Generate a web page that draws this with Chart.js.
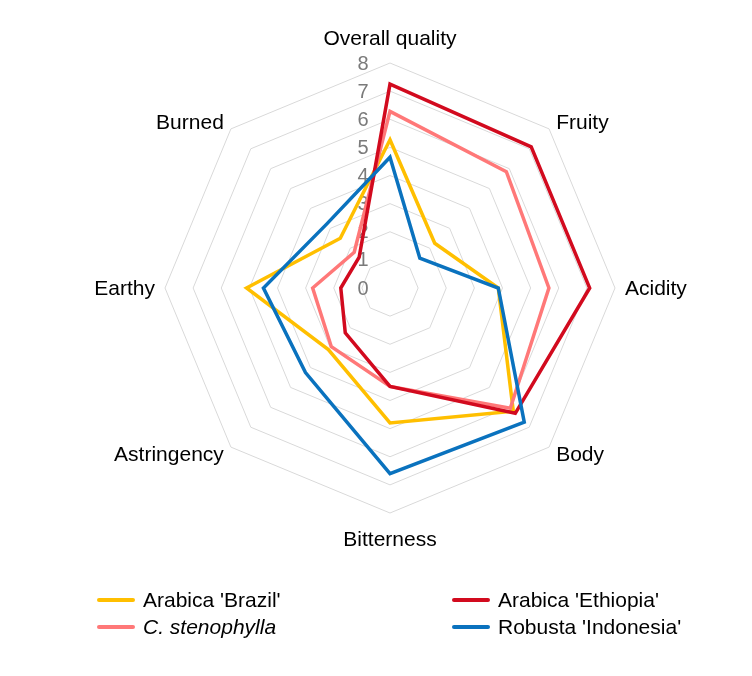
<!DOCTYPE html>
<html>
<head>
<meta charset="utf-8">
<script src="https://cdn.jsdelivr.net/npm/chart.js@4.4.0/dist/chart.umd.min.js"></script>
<style>
  html, body { margin: 0; padding: 0; background: #ffffff; }
  #wrap { position: relative; width: 752px; height: 676px; overflow: hidden; }
  #c { position: absolute; left: 0; top: 0; }
  .leg { position: absolute; font-family: "Liberation Sans", Arial, Helvetica, sans-serif; font-size: 21px; color: #000; line-height: 24px; height: 24px; white-space: nowrap; }
  .leg .sw { position: absolute; left: 0; top: 10px; width: 38px; height: 4px; border-radius: 2px; }
  .leg .tx { position: absolute; left: 46px; top: 0; }
</style>
</head>
<body>
<div id="wrap">
  <canvas id="c" width="752" height="676"></canvas>
</div>
<script>
// ---- data ----
const categories = ['Overall quality', 'Fruity', 'Acidity', 'Body', 'Bitterness', 'Astringency', 'Earthy', 'Burned'];
const seriesNames = ["Arabica 'Brazil'", "Arabica 'Ethiopia'", "C. stenophylla", "Robusta 'Indonesia'"];
const brazil     = [5.27, 2.25, 3.85, 6.2, 4.8, 3.1, 5.1, 2.5];
const ethiopia   = [7.25, 7.1, 7.1, 6.3, 3.5, 2.25, 1.75, 1.55];
const stenophylla= [6.28, 5.85, 5.65, 6.05, 3.5, 2.95, 2.75, 1.8];
const indonesia  = [4.65, 1.5, 3.85, 6.75, 6.6, 4.25, 4.5, 3.2];
const tickValues = [0, 1, 2, 3, 4, 5, 6, 7, 8];

const colors = ['#FFBF00', '#D20A1E', '#FF7878', '#0A72BE'];
const FONT = '"Liberation Sans", Arial, Helvetica, sans-serif';

// legend (HTML text)
const legendPos = [
  {x: 97, y: 588, i: 0},
  {x: 452, y: 588, i: 1},
  {x: 97, y: 615, i: 2},
  {x: 452, y: 615, i: 3}
];
const wrap = document.getElementById('wrap');
legendPos.forEach(p => {
  const d = document.createElement('div');
  d.className = 'leg';
  d.style.left = p.x + 'px';
  d.style.top = p.y + 'px';
  const sw = document.createElement('div');
  sw.className = 'sw';
  sw.style.background = colors[p.i];
  const tx = document.createElement('div');
  tx.className = 'tx';
  if (p.i === 2) {
    tx.innerHTML = '<i>C. stenophylla</i>';
  } else {
    tx.textContent = seriesNames[p.i];
  }
  d.appendChild(sw); d.appendChild(tx);
  wrap.appendChild(d);
});

// labels & ticks drawn through the radial scale
const labelPlugin = {
  id: 'labelPlugin',
  beforeDatasetsDraw(chart) {
    const s = chart.scales.r;
    const ctx = chart.ctx;
    ctx.save();
    // tick labels, offset left of the vertical axis (under the lines)
    ctx.font = '20px ' + FONT;
    ctx.fillStyle = '#7a7a7a';
    ctx.textAlign = 'center';
    ctx.textBaseline = 'middle';
    tickValues.forEach(v => {
      const d = s.getDistanceFromCenterForValue(v);
      ctx.fillText(String(v), s.xCenter - 27, s.yCenter - d + 1);
    });
    // point labels
    ctx.font = '21px ' + FONT;
    ctx.fillStyle = '#000000';
    const R = s.drawingArea;
    categories.forEach((lab, i) => {
      let p;
      if (i === 0) {
        p = s.getPointPosition(i, R + 25);
        ctx.textAlign = 'center';
      } else if (i === 4) {
        p = s.getPointPosition(i, R + 26);
        ctx.textAlign = 'center';
      } else {
        p = s.getPointPosition(i, R + 10);
        ctx.textAlign = (i < 4) ? 'left' : 'right';
      }
      ctx.textBaseline = 'middle';
      ctx.fillText(lab, p.x, p.y + 1);
    });
    ctx.restore();
  }
};

const datasets = [
  {label: seriesNames[0], data: brazil, borderColor: colors[0], order: 4},
  {label: seriesNames[1], data: ethiopia, borderColor: colors[1], order: 2},
  {label: seriesNames[2], data: stenophylla, borderColor: colors[2], order: 3},
  {label: seriesNames[3], data: indonesia, borderColor: colors[3], order: 1}
].map(d => Object.assign(d, {
  backgroundColor: 'rgba(0,0,0,0)',
  fill: false,
  borderWidth: 3.5,
  pointRadius: 0,
  pointHoverRadius: 0,
  tension: 0,
  borderJoinStyle: 'miter'
}));

new Chart(document.getElementById('c'), {
  type: 'radar',
  data: { labels: categories, datasets: datasets },
  options: {
    responsive: false,
    animation: false,
    devicePixelRatio: 1,
    layout: { padding: { left: 165, right: 137, top: 63, bottom: 163 } },
    plugins: { legend: { display: false }, tooltip: { enabled: false } },
    scales: {
      r: {
        min: 0,
        max: 8,
        ticks: { display: false, stepSize: 1 },
        pointLabels: { display: false },
        angleLines: { display: false },
        grid: { color: '#d9d9d9', lineWidth: 1, circular: false }
      }
    }
  },
  plugins: [labelPlugin]
});
</script>
</body>
</html>
